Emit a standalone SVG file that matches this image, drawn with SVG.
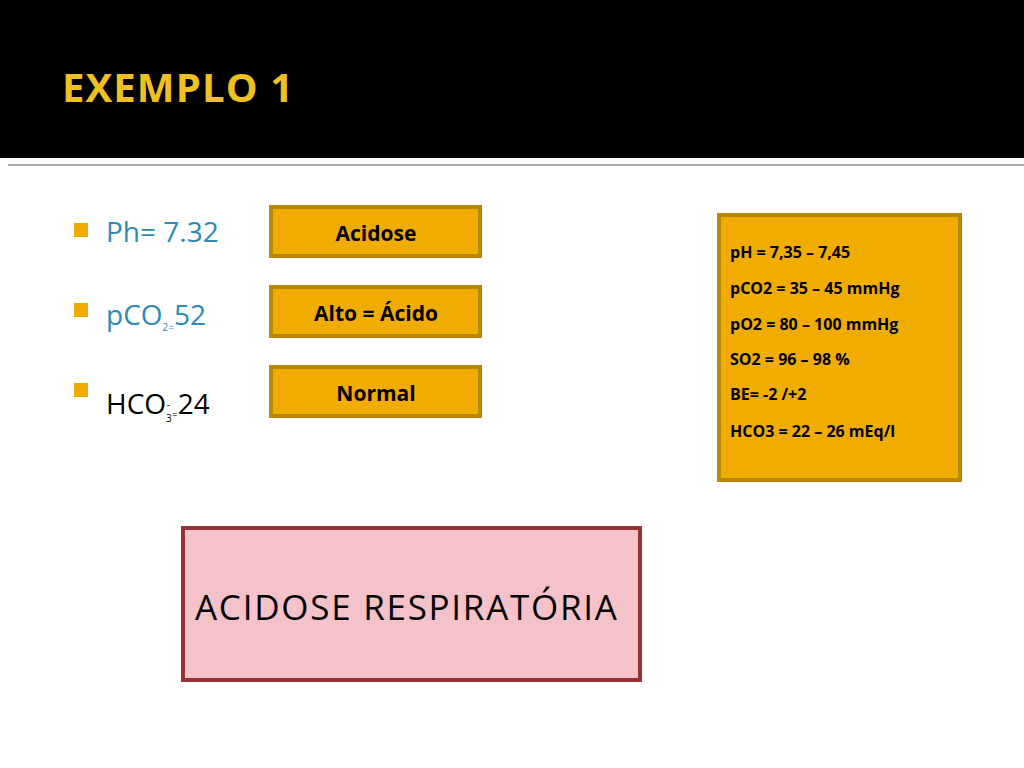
<svg xmlns="http://www.w3.org/2000/svg" width="1024" height="768" viewBox="0 0 1024 768">
<style>
.t{font-family:"Open Sans","Liberation Sans",sans-serif}
.box{fill:#f0ac00;stroke:#b8860b;stroke-width:4}
.bl{font-family:"Open Sans","Liberation Sans",sans-serif;font-weight:bold;font-size:21px;fill:#000;text-anchor:middle}
.ref{font-family:"Open Sans","Liberation Sans",sans-serif;font-weight:bold;font-size:16px;fill:#000}
.bul{fill:#f0ac00}
</style>
<rect x="0" y="0" width="1024" height="768" fill="#fff"/>
<rect x="0" y="0" width="1024" height="158" fill="#000"/>
<line x1="8" y1="165" x2="1024" y2="165" stroke="#555" stroke-width="1"/>
<text x="62" y="102" class="t" font-size="40" font-weight="bold" fill="#f0c020" textLength="231">EXEMPLO 1</text>
<g id="bullets">
<rect class="bul" x="74" y="223" width="14" height="14"/>
<rect class="bul" x="74" y="303" width="14" height="14"/>
<rect class="bul" x="74" y="383" width="14" height="14"/>
<text x="106" y="242" class="t" font-size="28" fill="#2e8bb5">Ph= 7.32</text>
<text x="106" y="325" class="t" font-size="28" fill="#2e8bb5">pCO<tspan font-size="10" dy="6">2=</tspan><tspan dy="-6">52</tspan></text>
<text x="106" y="414" class="t" font-size="28" fill="#000">HCO<tspan font-size="10" dy="8">3</tspan><tspan font-size="10" dx="-5" dy="-14">-</tspan><tspan font-size="10" dx="2" dy="10">=</tspan><tspan dy="-4">24</tspan></text>
</g>
<g id="acidose"><rect class="box" x="271" y="207" width="209" height="49"/><text x="376" y="241" class="bl">Acidose</text></g>
<g id="alto"><rect class="box" x="271" y="287" width="209" height="49"/><text x="376" y="321" class="bl">Alto = Ácido</text></g>
<g id="normal"><rect class="box" x="271" y="367" width="209" height="49"/><text x="376" y="401" class="bl">Normal</text></g>
<g id="ref">
<rect class="box" x="719" y="215" width="241" height="265"/>
<text x="730" y="258" class="ref">pH = 7,35 – 7,45</text>
<text x="730" y="294" class="ref">pCO2 = 35 – 45 mmHg</text>
<text x="730" y="330" class="ref">pO2 = 80 – 100 mmHg</text>
<text x="730" y="365" class="ref">SO2 = 96 – 98 %</text>
<text x="730" y="400" class="ref">BE= -2 /+2</text>
<text x="730" y="437" class="ref">HCO3 = 22 – 26 mEq/l</text>
</g>
<g id="result">
<rect x="183" y="528" width="457" height="152" fill="#f4c2c8" stroke="#983236" stroke-width="4"/>
<text x="195" y="620" class="t" font-size="35" fill="#000" textLength="422">ACIDOSE RESPIRATÓRIA</text>
</g>
<g id="connectors"/>
</svg>
